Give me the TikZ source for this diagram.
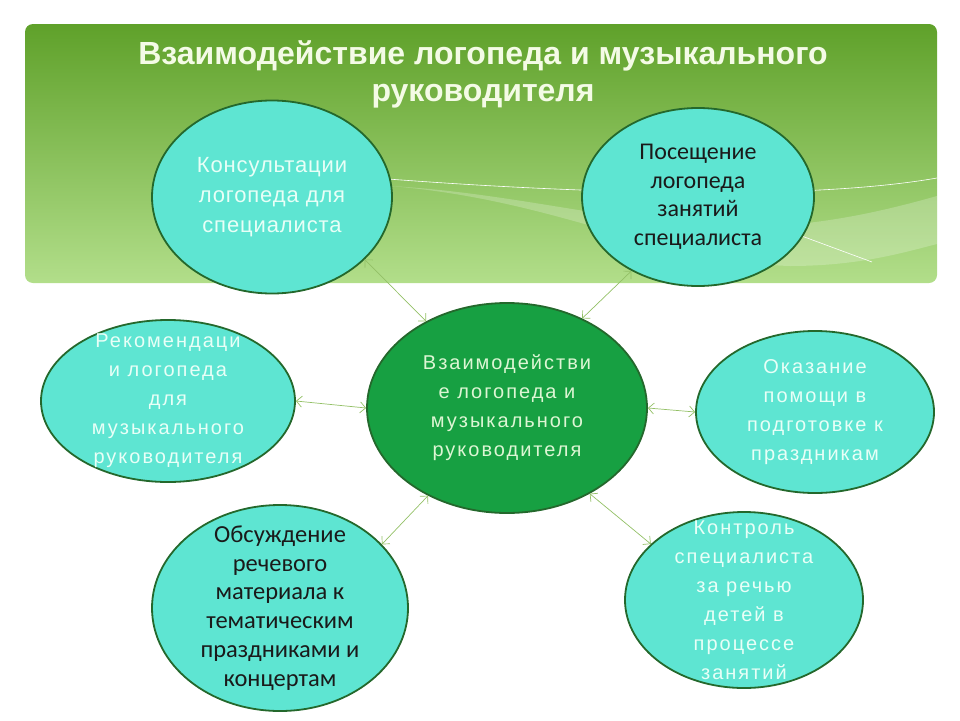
\documentclass[tikz,border=0pt]{standalone}
\usepackage{fontspec}
\setmainfont{Liberation Sans}
\newfontfamily\bubblefont{Liberation Sans}[LetterSpace=10]
\newfontfamily\consultfont{Liberation Sans}[LetterSpace=4]
\newfontfamily\calibrifont{Carlito}
\usetikzlibrary{shapes.geometric,arrows.meta}
\definecolor{bannertop}{HTML}{5FA12A}
\definecolor{bannerbottom}{HTML}{B2DE8A}
\definecolor{titlecream}{HTML}{F4FBE6}
\definecolor{bubblefill}{HTML}{5EE5D2}
\definecolor{hubfill}{HTML}{17A042}
\definecolor{bubbleline}{HTML}{24682C}
\definecolor{bubblewhite}{HTML}{E8FFF7}
\definecolor{hubwhite}{HTML}{DDF6D4}
\definecolor{darkink}{HTML}{1A1A1A}
\definecolor{linkgreen}{HTML}{93C066}
\pgfmathsetmacro{\hubrx}{140}
\pgfmathsetmacro{\hubry}{105}

\begin{document}
\begin{tikzpicture}[x=1pt, y=-1pt,
    bubble/.style={ellipse, draw=bubbleline, line width=1.8pt, fill=bubblefill, inner sep=0pt},
    whitetext/.style={align=center, text=bubblewhite, font=\bubblefont\fontsize{20}{29}\selectfont},
    darktext/.style={align=center, text=darkink, font=\calibrifont\fontsize{24.5}{28.7}\selectfont},
    link/.style={{Straight Barb[length=5.5pt,width=11pt]}-{Straight Barb[length=5.5pt,width=11pt]}, draw=linkgreen, line width=0.7pt}]
    \useasboundingbox (0,0) rectangle (960,720);
    % banner
    \shade[top color=bannertop, bottom color=bannerbottom, rounded corners=8pt] (25,24) rectangle (937,283);
    \fill[white, opacity=0.22] (390,186) .. controls (560,200) and (660,262) .. (790,266) .. controls (860,266) and (905,252) .. (937,244) -- (937,196) .. controls (880,212) and (800,232) .. (700,226) .. controls (600,218) and (500,192) .. (390,186);
    \draw[white, line width=0.6pt] (388,179) .. controls (560,192) and (800,202) .. (937,178);
    \draw[white, line width=0.6pt] (780,228) -- (872,262);
    \node[font=\bfseries\fontsize{32}{37}\selectfont, text=titlecream, align=center] (title) at (483,74) {Взаимодействие логопеда и музыкального\\руководителя};
    % define bubbles
    \node[bubble, fill=hubfill, minimum width=2*\hubrx, minimum height=2*\hubry] (hub) at (507,408) {};
    \node[bubble, minimum width=240, minimum height=193] (consult) at (272,197) {};
    \node[bubble, minimum width=232, minimum height=178] (visit) at (698,197) {};
    \node[bubble, minimum width=254, minimum height=162] (advice) at (168,401) {};
    \node[bubble, minimum width=238, minimum height=162] (help) at (815,412) {};
    \node[bubble, minimum width=256, minimum height=206] (discuss) at (280,608) {};
    \node[bubble, minimum width=238, minimum height=176] (control) at (744,600) {};
    % draw links
    \draw[link] (consult.-34) -- (hub.133);
    \draw[link] (visit.-132) -- (hub.50);
    \draw[link] (advice.0) -- (hub.180);
    \draw[link] (hub.0) -- (help.180);
    \draw[link] (hub.-132) -- (discuss.32);
    \draw[link] (hub.-46) -- (control.149);
    % add labels
    \node[whitetext, text=hubwhite] (hub-label) at (hub) {Взаимодействи\\е логопеда и\\музыкального\\руководителя};
    \node[whitetext, font=\consultfont\fontsize{22}{30}\selectfont] (consult-label) at (consult) {Консультации\\логопеда для\\специалиста};
    \node[darktext, font=\calibrifont\fontsize{24}{28.5}\selectfont] (visit-label) at (visit) {Посещение\\логопеда\\занятий\\специалиста};
    \node[whitetext] (advice-label) at (advice) {Рекомендаци\\и логопеда\\для\\музыкального\\руководителя};
    \node[whitetext] (help-label) at (help) {Оказание\\помощи в\\подготовке к\\праздникам};
    \node[darktext] (discuss-label) at (discuss) {Обсуждение\\речевого\\материала к\\тематическим\\праздниками и\\концертам};
    \node[whitetext] (control-label) at (control) {Контроль\\специалиста\\за речью\\детей в\\процессе\\занятий};
\end{tikzpicture}
\end{document}
